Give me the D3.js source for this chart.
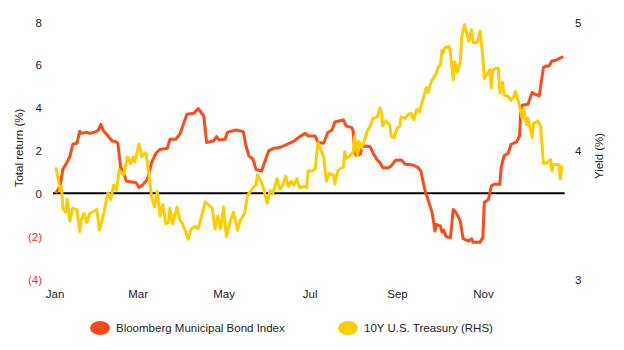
<!DOCTYPE html>
<head>
    <meta charset="utf-8">
    <title>Muni index vs 10Y Treasury</title>
    <style>
        body { margin: 0; background: #fff; }
        svg text { font-family: "Liberation Sans", Arial, sans-serif; font-size: 11.5px; fill: #222; }
    </style>
</head>

<body>

<svg width="624" height="350"></svg>

<script src="https://cdn.jsdelivr.net/npm/d3@7"></script>

<script>
    // cumulative total return (%) of the muni index
    const munDates = ["01-03","01-06","01-08","01-11","01-13","01-15","01-18","01-20","01-21","01-25","01-27","01-31",
        "02-02","02-04","02-06","02-09","02-12","02-14","02-16","02-18","02-20","02-22","02-26",
        "03-01","03-03","03-06","03-09","03-12","03-15","03-18","03-23","03-25","03-29",
        "04-01","04-06","04-11","04-14","04-18","04-20","04-25","04-27","04-29",
        "05-03","05-05","05-11","05-16","05-18","05-20","05-23","05-25","05-29","05-31",
        "06-03","06-06","06-11","06-16","06-21","06-25","06-29",
        "07-01","07-06","07-08","07-12","07-15","07-18","07-20","07-26","07-28",
        "08-01","08-02","08-03","08-04","08-07","08-08","08-10","08-14","08-16","08-19","08-21","08-23","08-27","08-29",
        "09-01","09-05","09-08","09-12","09-15","09-17","09-19","09-22","09-24","09-27","09-29","09-30",
        "10-03","10-04","10-05","10-07","10-10","10-12","10-14","10-17","10-19","10-23","10-25","10-26","10-31",
        "11-02","11-03","11-06","11-08","11-10","11-14","11-15","11-17","11-20","11-22","11-26","11-28","11-29","11-30",
        "12-04","12-07","12-09","12-12","12-15","12-17","12-19","12-21","12-24","12-26","12-29"];
    const munReturns = [0.00,0.33,1.12,1.45,1.73,2.29,2.34,2.90,2.80,2.85,2.80,2.86,
        2.94,3.22,2.91,2.68,2.44,2.43,2.34,1.21,0.98,0.57,0.53,
        0.50,0.27,0.42,0.65,1.45,1.87,2.06,2.09,2.52,2.52,
        2.76,3.69,3.74,3.96,3.61,2.37,2.44,2.65,2.49,
        2.52,2.86,2.96,2.88,2.21,1.74,1.59,1.12,1.04,1.43,
        1.98,2.09,2.14,2.29,2.44,2.65,2.80,
        2.68,2.68,2.37,2.34,2.84,2.96,3.33,3.43,3.14,
        3.07,2.91,1.98,1.78,1.82,2.14,2.21,2.18,1.90,1.56,1.43,1.20,1.20,1.28,
        1.54,1.56,1.36,1.34,1.28,1.20,1.04,0.11,-0.28,-0.90,-1.76,-1.45,
        -1.53,-1.81,-1.71,-2.02,-2.07,-0.75,-0.90,-1.29,-2.12,-2.23,-2.12,-2.28,-2.28,
        -2.07,-0.43,-0.28,0.34,0.42,0.42,1.20,1.74,1.87,2.29,2.40,2.68,3.93,4.11,
        4.16,4.71,4.63,4.55,5.87,5.95,5.95,6.18,6.21,6.29,6.39];

    // 10Y treasury yield (%), right axis
    const tsyDates = ["01-03","01-05","01-06","01-07","01-08","01-10","01-11","01-13","01-15","01-18","01-20","01-21","01-23","01-25","01-27","01-29",
        "02-01","02-03","02-06","02-08","02-09","02-11","02-13","02-15","02-17","02-19","02-20","02-23","02-25","02-27","02-28",
        "03-03","03-05","03-07","03-08","03-10","03-12","03-14","03-16","03-18","03-20","03-22","03-24","03-25","03-27","03-30",
        "04-01","04-03","04-07","04-09","04-12","04-14","04-17","04-19","04-21","04-24","04-26","04-28","04-30",
        "05-02","05-04","05-07","05-09","05-12","05-14","05-17","05-19","05-23","05-25","05-26","05-28","05-30",
        "06-02","06-04","06-06","06-09","06-11","06-13","06-15","06-17","06-19","06-21","06-23","06-25","06-28","06-30",
        "07-01","07-04","07-06","07-08","07-11","07-12","07-14","07-16","07-19","07-20","07-22","07-24","07-26","07-27","07-28","07-31",
        "08-02","08-03","08-05","08-06","08-08","08-10","08-12","08-14","08-16","08-19","08-21","08-22","08-23","08-25","08-28","08-29","08-31",
        "09-02","09-04","09-05","09-08","09-10","09-12","09-14","09-16","09-18","09-21","09-23","09-24","09-26","09-27","09-29","09-30",
        "10-01","10-03","10-04","10-05","10-06","10-09","10-10","10-11","10-12","10-13","10-15","10-16","10-17","10-18","10-20","10-22","10-23","10-25","10-26","10-29","10-30","10-31",
        "11-02","11-03","11-05","11-07","11-08","11-09","11-11","11-13","11-14","11-16","11-17","11-20","11-22","11-24","11-25","11-27","11-30",
        "12-01","12-03","12-04","12-07","12-08","12-11","12-13","12-15","12-17","12-20","12-21","12-22","12-26","12-27","12-28","12-29"];
    const tsyYields = [3.87,3.76,3.69,3.72,3.55,3.52,3.62,3.45,3.55,3.54,3.37,3.46,3.51,3.44,3.51,3.52,
        3.54,3.38,3.51,3.62,3.67,3.62,3.73,3.69,3.85,3.82,3.81,3.95,3.90,3.95,3.91,
        4.05,3.95,3.98,3.98,3.82,3.64,3.56,3.68,3.49,3.58,3.43,3.44,3.55,3.43,3.56,
        3.46,3.43,3.31,3.39,3.41,3.39,3.51,3.60,3.58,3.55,3.39,3.49,3.39,
        3.56,3.33,3.46,3.52,3.38,3.46,3.51,3.65,3.71,3.73,3.81,3.77,3.72,
        3.59,3.69,3.67,3.78,3.70,3.73,3.80,3.72,3.76,3.73,3.78,3.71,3.72,3.71,
        3.84,3.84,3.86,4.06,3.98,3.95,3.76,3.82,3.81,3.74,3.84,3.86,3.87,3.99,3.94,3.96,
        3.99,4.11,3.96,4.07,4.02,4.08,4.15,4.19,4.25,4.26,4.33,4.29,4.19,4.23,4.20,4.11,4.10,
        4.17,4.19,4.26,4.25,4.28,4.29,4.24,4.32,4.30,4.42,4.49,4.45,4.52,4.55,4.58,4.60,
        4.64,4.67,4.78,4.76,4.80,4.81,4.76,4.65,4.55,4.69,4.61,4.65,4.69,4.88,4.98,4.89,4.85,4.94,4.84,4.84,4.88,4.93,
        4.73,4.56,4.59,4.63,4.49,4.62,4.64,4.64,4.45,4.53,4.43,4.42,4.39,4.42,4.46,4.39,4.25,
        4.32,4.20,4.25,4.10,4.21,4.23,4.19,3.90,3.90,3.93,3.84,3.89,3.89,3.78,3.87,3.87];

    const leftTicks = [8, 6, 4, 2, 0, -2, -4];
    const rightTicks = [5, 4, 3];
    const monthTicks = ["01-01", "03-01", "05-01", "07-01", "09-01", "11-01"];
    const legendLabels = ["Bloomberg Municipal Bond Index", "10Y U.S. Treasury (RHS)"];
    const colors = ["#ff4a17", "#ffcc00"];

    const parseDate = s => d3.timeParse("%Y-%m-%d")("2023-" + s);

    const svg = d3.select("svg");

    const x = d3.scaleTime()
        .domain([parseDate("01-01"), parseDate("12-31")])
        .range([53, 566]);
    const yL = d3.scaleLinear().domain([-4, 8]).range([279, 22]);
    const yR = d3.scaleLinear().domain([3, 5]).range([279, 22]);

    const mun = munDates.map((d, i) => ({ date: parseDate(d), value: munReturns[i] }));
    const tsy = tsyDates.map((d, i) => ({ date: parseDate(d), value: tsyYields[i] }));

    // zero line
    svg.append("line")
        .attr("x1", x(parseDate("01-01")))
        .attr("x2", x(parseDate("12-30")))
        .attr("y1", yL(0))
        .attr("y2", yL(0))
        .attr("stroke", "#000")
        .attr("stroke-width", 2);

    const munLine = d3.line().x(d => x(d.date)).y(d => yL(d.value));
    const tsyLine = d3.line().x(d => x(d.date)).y(d => yR(d.value));

    svg.append("path")
        .datum(mun)
        .attr("fill", "none")
        .attr("stroke", colors[0])
        .attr("stroke-width", 3)
        .attr("stroke-linejoin", "round")
        .attr("d", munLine);

    svg.append("path")
        .datum(tsy)
        .attr("fill", "none")
        .attr("stroke", colors[1])
        .attr("stroke-width", 3)
        .attr("stroke-linejoin", "round")
        .attr("d", tsyLine);

    // axes, no domain or tick lines
    const gL = svg.append("g")
        .attr("transform", "translate(42,0)")
        .call(d3.axisLeft(yL).tickValues(leftTicks).tickSize(0).tickPadding(0)
            .tickFormat(d => d < 0 ? `(${-d})` : d));
    gL.selectAll("text")
        .attr("dy", "0.35em")
        .style("fill", d => d < 0 ? "#ff2a2a" : "#222");

    svg.append("g")
        .attr("transform", "translate(575,0)")
        .call(d3.axisRight(yR).tickValues(rightTicks).tickSize(0).tickPadding(0)
            .tickFormat(d3.format("d")))
        .selectAll("text").attr("dy", "0.35em");

    svg.append("g")
        .attr("transform", "translate(1.5,290)")
        .call(d3.axisBottom(x).tickValues(monthTicks.map(parseDate)).tickSize(0).tickPadding(0)
            .tickFormat(d3.timeFormat("%b")));

    svg.selectAll(".domain").remove();
    svg.selectAll(".tick text").attr("font-family", null).attr("font-size", null);

    // axis titles
    svg.append("text")
        .attr("transform", "translate(19,148) rotate(-90)")
        .attr("text-anchor", "middle")
        .attr("dy", "0.35em")
        .text("Total return (%)");

    svg.append("text")
        .attr("transform", "translate(599,156) rotate(-90)")
        .attr("text-anchor", "middle")
        .attr("dy", "0.35em")
        .text("Yield (%)");

    // legend
    const legend = svg.append("g")
        .selectAll("g")
        .data(legendLabels)
        .enter().append("g")
        .attr("transform", (d, i) => `translate(${i ? 348 : 100},328)`);

    legend.append("ellipse")
        .attr("rx", 10)
        .attr("ry", 7)
        .attr("fill", (d, i) => colors[i]);

    legend.append("text")
        .attr("x", 16)
        .attr("dy", "0.35em")
        .text(d => d);

</script>

</body>
